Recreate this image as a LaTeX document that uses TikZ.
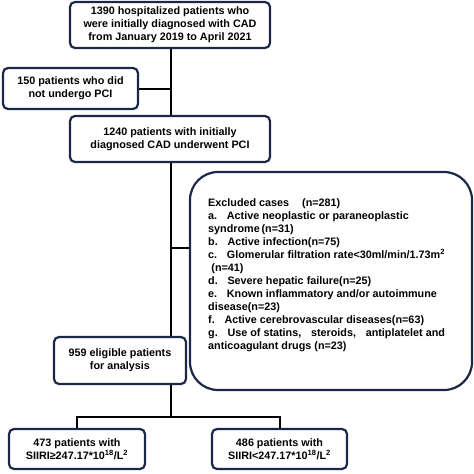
\documentclass[tikz,border=0pt]{standalone}
\usepackage{fontspec}
\setmainfont{Liberation Sans}
\usepackage{tikz}
\definecolor{boxline}{RGB}{28,40,72}
\tikzstyle{flowbox}=[rectangle,rounded corners=5pt,draw=boxline,line width=2.2pt,
                     fill=white,align=center,inner sep=2pt,
                     font=\bfseries\fontsize{10.8}{13}\selectfont]
\tikzstyle{link}=[draw=black,line width=2pt]
\newcommand{\gapa}{\hspace{0.9em}}

\begin{document}
\begin{tikzpicture}[x=1pt,y=-1pt]
    \useasboundingbox (0,0) rectangle (474,474);
    \node (all) at (170,25) [flowbox,minimum width=200pt,minimum height=46pt]
      {1390 hospitalized patients who\\were initially diagnosed with CAD\\from January 2019 to April 2021};
    \node (nopci) at (70.5,88.5) [flowbox,minimum width=135pt,minimum height=41pt]
      {150 patients who did\\not undergo PCI};
    \node (pci) at (170,139) [flowbox,minimum width=200pt,minimum height=46pt]
      {1240 patients with initially\\diagnosed CAD underwent PCI};
    \node (excl) at (331,281) [flowbox,rounded corners=28pt,minimum width=282pt,minimum height=218pt]{};
    \node (excltext) at (208,198.5) [anchor=north west,align=left,inner sep=0pt,
      font=\bfseries\fontsize{10.8}{13}\selectfont]
      {Excluded cases\hspace{1.2em}(n=281)\\
       a.\gapa Active neoplastic or paraneoplastic\\
       syndrome\,(n=31)\\
       b.\gapa Active infection(n=75)\\
       c.\gapa Glomerular filtration rate<30ml/min/1.73m\textsuperscript{2}\\
       \hspace{0.3em}(n=41)\\
       d.\gapa Severe hepatic failure(n=25)\\
       e.\gapa Known inflammatory and/or autoimmune\\
       disease(n=23)\\
       f.\gapa Active cerebrovascular diseases(n=63)\\
       g.\gapa Use of statins,\gapa steroids,\gapa antiplatelet and\\
       anticoagulant drugs (n=23)};
    \node (elig) at (120,360.5) [flowbox,minimum width=132pt,minimum height=47pt]
      {959 eligible patients\\for analysis};
    \node (high) at (77,449) [flowbox,minimum width=136pt,minimum height=40pt]
      {473 patients with\\SIIRI≥247.17*10\textsuperscript{18}/L\textsuperscript{2}};
    \node (low) at (279.5,449) [flowbox,minimum width=135pt,minimum height=40pt]
      {486 patients with\\SIIRI<247.17*10\textsuperscript{18}/L\textsuperscript{2}};
    \coordinate (split) at (171,417);
    \draw[link] (all.south -| split) -- (pci.north -| split);
    \draw[link] (nopci.east) -- (nopci.east -| split);
    \draw[link] (pci.south -| split) -- (elig.north -| split);
    \draw[link] (excl.west |- 0,248) -- (split |- 0,248);
    \draw[link] (elig.south -| split) -- (split);
    \draw[link] (high.north) |- (split) -| (low.north);
\end{tikzpicture}
\end{document}
